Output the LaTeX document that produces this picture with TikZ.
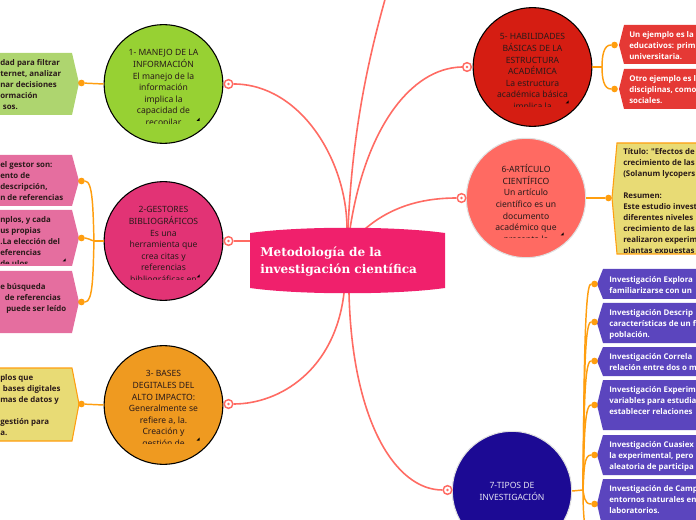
\documentclass[tikz,border=0pt]{standalone}
\usepackage{fontspec}
\setmainfont{Noto Sans}
\newfontfamily\boxfont{Open Sans}
\newfontfamily\titlefont{DejaVu Serif}
\definecolor{linkred}{HTML}{FF6B63}
\definecolor{linkor}{HTML}{FF9E0F}
\definecolor{cgreen}{HTML}{97D133}
\definecolor{cpink}{HTML}{E23375}
\definecolor{corange}{HTML}{EF9A20}
\definecolor{cred}{HTML}{D51D12}
\definecolor{csalmon}{HTML}{FF6A62}
\definecolor{cblue}{HTML}{1C0A94}
\definecolor{bgreen}{HTML}{AED56F}
\definecolor{bpink}{HTML}{E56E9F}
\definecolor{byellow}{HTML}{E8DB75}
\definecolor{bred}{HTML}{E53935}
\definecolor{bpurple}{HTML}{5B45BE}
\definecolor{titlepink}{HTML}{F0206C}
\definecolor{inkdark}{HTML}{2A1A1A}
\tikzset{
  x=0.75pt,y=-0.75pt,
  topic/.style={circle,minimum size=89pt,inner sep=0pt,draw=black,line width=0.8pt},
  topicsoft/.style={circle,minimum size=89.5pt,inner sep=0pt,draw=black!12,line width=0.8pt},
  ctext/.style={anchor=north,inner sep=0pt,yshift=-1pt,align=center,text=inkdark,font=\fontsize{6.45}{8.7}\selectfont},
  btext/.style={anchor=north west,inner sep=0pt,yshift=-1.1pt,align=left,font=\boxfont\bfseries\fontsize{5.9}{8.25}\selectfont},
  ring/.style={circle,minimum size=6.5pt,inner sep=0pt,draw=linkred,line width=1.1pt,fill=white},
  ringdot/.style={circle,minimum size=2.2pt,inner sep=0pt,fill=linkred},
  dotnode/.style={circle,minimum size=5pt,inner sep=0pt,fill=linkor},
  redlink/.style={draw=linkred,line width=1.2pt},
  orlink/.style={draw=linkor,line width=1.1pt}
}
\newcommand{\tinytri}[2]{\fill[black] (#1+1.5,#2-1.5) -- (#1+1.5,#2+1.5) -- (#1-1.5,#2+1.5) -- cycle;}
\newcommand{\leftbox}[4]{\fill[#4] (-5,#1) -- (72,#1) -- (79,#2) -- (72,#3) -- (-5,#3) -- cycle;}
\newcommand{\rightbox}[6]{\fill[#5] (#6,#1) -- (#4,#2) -- (#6,#3) -- (701,#3) -- (701,#1) -- cycle;}
\begin{document}
\begin{tikzpicture}
\useasboundingbox (0,0) rectangle (696,520);
\begin{scope}
\clip (0,0) rectangle (696,520);

\node[topic,fill=cgreen] (c1) at (163.5,84) {};
\node[topic,fill=cpink] (c2) at (163.5,241) {};
\node[topic,fill=corange] (c3) at (163.5,405) {};
\node[topic,fill=cred] (c5) at (532.5,67) {};
\node[topicsoft,fill=csalmon] (c6) at (526,198) {};
\node[topicsoft,fill=cblue] (c7) at (512,491) {};

\node[ring] (r1) at (228.5,84) {};
\node[ring] (r2) at (228.5,241) {};
\node[ring] (r3) at (228.5,404) {};
\node[ring] (r5) at (467,67) {};
\node[ring] (r6) at (461.5,198) {};
\node[ring] (r7) at (447.5,490) {};

\coordinate (t1) at (347,229);
\coordinate (t2) at (348,229);
\coordinate (t5) at (350,229);
\coordinate (t6) at (365,229);
\coordinate (tl) at (251,241);
\coordinate (b3) at (344,293);
\coordinate (b7) at (349,293);
\coordinate (topout) at (386,-4);
\coordinate (botout) at (594,545);

\path[redlink] (t1) .. controls (347,160) and (300,84) .. (r1.east);
\path[redlink] (t2) .. controls (352,140) and (365,70) .. (topout);
\path[redlink] (t5) .. controls (365,130) and (410,68) .. (r5.west);
\path[redlink] (t6) .. controls (395,203) and (430,198) .. (r6.west);
\path[redlink] (tl) -- (r2.east);
\path[redlink] (b3) .. controls (335,370) and (280,404) .. (r3.east);
\path[redlink] (b7) .. controls (352,420) and (395,490) .. (r7.west);

\leftbox{53}{83}{115}{bgreen}
\leftbox{155}{181}{206}{bpink}
\leftbox{210}{238}{266}{bpink}
\leftbox{271}{302}{333}{bpink}
\path[fill=byellow,draw=linkor,line width=0.8pt] (-5,368) -- (72,368) -- (79,404) -- (72,441) -- (-5,441) -- cycle;

\rightbox{25}{45}{64}{619}{bred}{624}
\rightbox{69}{89}{109}{619}{bred}{624}
\path[fill=byellow,draw=linkor,line width=0.8pt] (617,143) -- (612,198) -- (617,254) -- (701,254) -- (701,143) -- cycle;
\rightbox{269}{284}{299}{597}{bpurple}{603}
\rightbox{303}{323}{343}{597}{bpurple}{603}
\rightbox{347}{361}{376}{597}{bpurple}{603}
\rightbox{380}{405}{430}{597}{bpurple}{603}
\rightbox{435}{455}{475}{597}{bpurple}{603}
\rightbox{479}{504}{530}{597}{bpurple}{603}

\node[dotnode] (d1) at (81.5,83) {};
\node[dotnode] (d2a) at (81.5,181) {};
\node[dotnode] (d2b) at (81.5,238) {};
\node[dotnode] (d2c) at (81.5,302) {};
\node[dotnode] (d3) at (81.5,404) {};
\node[dotnode] (d5a) at (614.5,45) {};
\node[dotnode] (d5b) at (614.5,89) {};
\node[dotnode] (d6) at (608.5,198) {};
\node[dotnode] (d7a) at (594.5,284) {};
\node[dotnode] (d7b) at (594.5,322) {};
\node[dotnode] (d7c) at (594.5,361) {};
\node[dotnode] (d7d) at (594.5,405) {};
\node[dotnode] (d7e) at (594.5,455) {};
\node[dotnode] (d7f) at (594.5,504) {};

\coordinate (j2) at (94,241);
\coordinate (j5) at (602,67);
\coordinate (j7) at (583,490);
\path[orlink] (c1.west) -- (d1);
\path[orlink] (c3.west) -- (d3);
\path[orlink] (c6.east) -- (d6);
\path[orlink] (c2.west) -- (j2);
\path[orlink] (j2) .. controls (93,210) and (93,181) .. (d2a);
\path[orlink] (j2) .. controls (90,240) and (88,238) .. (d2b);
\path[orlink] (j2) .. controls (93,275) and (93,302) .. (d2c);
\path[orlink] (c5.east) -- (j5);
\path[orlink] (j5) .. controls (602,55) and (604,45) .. (d5a);
\path[orlink] (j5) .. controls (602,79) and (604,89) .. (d5b);
\path[orlink] (c7.east) -- (j7);
\path[orlink] (j7) .. controls (584,400) and (584,284) .. (d7a);
\path[orlink] (j7) .. controls (584,400) and (584,322) .. (d7b);
\path[orlink] (j7) .. controls (584,420) and (584,361) .. (d7c);
\path[orlink] (j7) .. controls (584,450) and (584,405) .. (d7d);
\path[orlink] (j7) .. controls (584,470) and (584,455) .. (d7e);
\path[orlink] (j7) .. controls (584,495) and (584,504) .. (d7f);
\path[orlink] (j7) .. controls (583,510) and (584,545) .. (botout);

\foreach \r in {r1,r2,r3,r5,r6,r7}{\node[ringdot] at (\r) {};}

\path[fill=titlepink] (250,233) .. controls (300,226) and (395,226) .. (445,233)
  -- (445,288) .. controls (395,295) and (300,295) .. (250,288) -- cycle;
\node[anchor=west,inner sep=0pt,align=left,text=white,font=\titlefont\bfseries\fontsize{9.05}{13.4}\selectfont] (title) at (260,261.5) {Metodología de la\\investigación científica};

\begin{scope}\clip (100,40) rectangle (230,123.5);
\node[ctext] (tc1) at (c1.center |- 0,48) {1- MANEJO DE LA\\INFORMACIÓN\\El manejo de la\\información\\implica la\\capacidad de\\recopilar};
\end{scope}
\begin{scope}\clip (100,190) rectangle (230,279.5);
\node[ctext] (tc2) at (c2.center |- 0,205) {2-GESTORES\\BIBLIOGRÁFICOS\\Es una\\herramienta que\\crea citas y\\referencias\\bibliográficas en};
\end{scope}
\begin{scope}\clip (100,360) rectangle (230,443);
\node[ctext] (tc3) at (c3.center |- 0,369) {3- BASES\\DEGITALES DEL\\ALTO IMPACTO:\\Generalmente se\\refiere a, la.\\Creación y\\gestión de};
\end{scope}
\begin{scope}\clip (470,20) rectangle (595,106.5);
\node[ctext] (tc5) at (c5.center |- 0,32) {5- HABILIDADES\\BÁSICAS DE LA\\ESTRUCTURA\\ACADÉMICA\\La estructura\\académica básica\\implica la};
\end{scope}
\begin{scope}\clip (466,150) rectangle (586,238);
\node[ctext] (tc6) at (c6.center |- 0,163) {6-ARTÍCULO\\CIENTÍFICO\\Un artículo\\científico es un\\documento\\académico que\\presenta la};
\end{scope}
\node[ctext,text=white!88!cblue] (tc7) at (c7.center |- 0,481) {7-TIPOS DE\\INVESTIGACIÓN};

\tinytri{198}{119.5}
\tinytri{198}{276}
\tinytri{198}{439}
\tinytri{567}{102}
\tinytri{562}{234}
\tinytri{64}{260}

\node[btext,text=inkdark] (lb1) at (0,57.5) {dad para filtrar\\ternet, analizar\\nar decisiones\\ormación\\\hspace*{2pt}sos.};
\node[btext,text=inkdark] (lb2) at (0,159.5) {el gestor son:\\ento de\\descripción,\\n de referencias};
\begin{scope}\clip (0,210) rectangle (79,263.5);
\node[btext,text=inkdark] (lb3) at (0,214.5) {nplos, y cada\\us propias\\.La elección del\\eferencias\\de ulos};
\end{scope}
\node[btext,text=inkdark] (lb4) at (0,281.5) {e búsqueda\\\hspace*{3.5pt}de referencias\\\hspace*{4.5pt}puede ser leído};
\node[btext,text=inkdark] (lb5) at (0,372.5) {plos que\\\hspace*{2pt}bases digitales\\mas de datos y\\\mbox{}\\gestión para\\a.};

\node[btext,text=white] (rb1) at (629,29.5) {Un ejemplo es la\\educativos: prim\\universitaria.};
\node[btext,text=white] (rb2) at (629,73.5) {Otro ejemplo es l\\disciplinas, como\\sociales.};
\begin{scope}\clip (612,143) rectangle (696,253);
\node[btext,text=inkdark] (rb3) at (623,146.5) {Título: "Efectos de\\crecimiento de las\\(Solanum lycopers\\\mbox{}\\Resumen:\\Este estudio invest\\diferentes niveles\\crecimiento de las\\realizaron experim\\plantas expuestas};
\end{scope}
\node[btext,text=white] (p1) at (609,274.5) {Investigación Explora\\familiarizarse con un};
\node[btext,text=white] (p2) at (609,307.5) {Investigación Descrip\\características de un f\\población.};
\node[btext,text=white] (p3) at (609,351.5) {Investigación Correla\\relación entre dos o m};
\node[btext,text=white] (p4) at (609,384.5) {Investigación Experim\\variables para estudia\\establecer relaciones};
\node[btext,text=white] (p5) at (609,439.5) {Investigación Cuasiex\\la experimental, pero\\aleatoria de participa};
\node[btext,text=white] (p6) at (609,483.5) {Investigación de Camp\\entornos naturales en\\laboratorios.};
\end{scope}
\end{tikzpicture}
\end{document}
